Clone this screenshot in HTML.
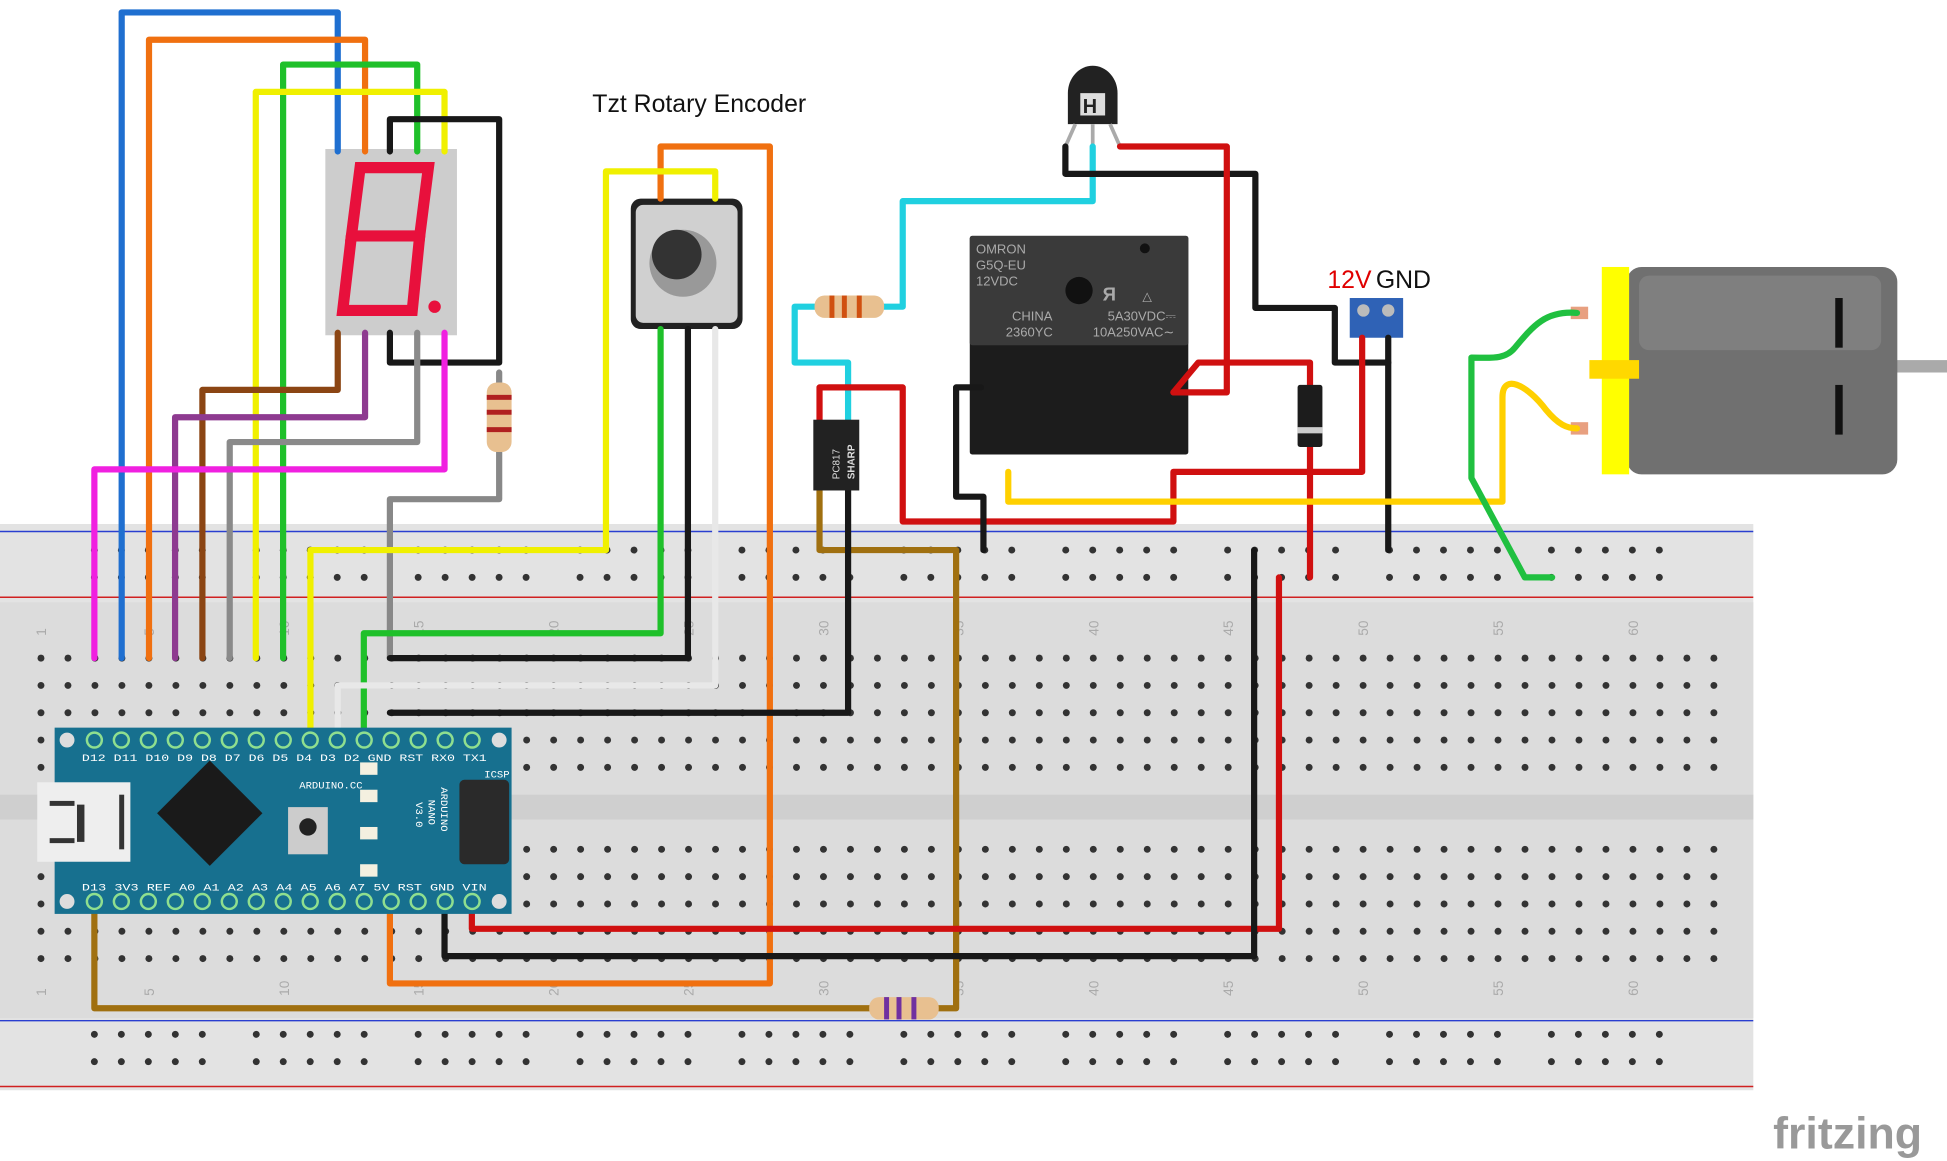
<!DOCTYPE html>
<html><head><meta charset="utf-8">
<style>
html,body{margin:0;padding:0;background:#fff;}
svg{display:block;}
text{font-family:"Liberation Sans","DejaVu Sans",sans-serif;}
.mono{font-family:"Liberation Mono","DejaVu Sans Mono",monospace;}
</style></head>
<body>
<svg id="s" xmlns="http://www.w3.org/2000/svg" width="1947" height="1161" viewBox="0 0 1568 935">
<rect width="1568" height="935" fill="#fff"/>
<rect x="0" y="422" width="1412" height="456" fill="#e3e3e3"/>
<rect x="0" y="485" width="1412" height="335" fill="#dcdcdc"/>
<rect x="0" y="640" width="1412" height="20" fill="#cfcfcf"/>
<line x1="0" y1="428" x2="1412" y2="428" stroke="#2a3fd0" stroke-width="1.2"/>
<line x1="0" y1="481" x2="1412" y2="481" stroke="#d02020" stroke-width="1.2"/>
<line x1="0" y1="822" x2="1412" y2="822" stroke="#2a3fd0" stroke-width="1.2"/>
<line x1="0" y1="875" x2="1412" y2="875" stroke="#d02020" stroke-width="1.2"/>
<g id="holes"></g>
<g font-size="11" fill="#aaa" id="nums"></g>

<rect x="262" y="120" width="106" height="150" fill="#cdcdcd"/>
<g stroke="#e8103c" stroke-width="9" fill="none" stroke-linecap="round">
<path d="M290 135 L345 135 L338 190 L283 190 Z"/>
<path d="M283 190 L276 250 L332 250 L338 190"/>
</g>
<circle cx="350" cy="247" r="5" fill="#e8103c"/>

<rect x="508" y="160" width="90" height="105" rx="8" fill="#222"/>
<rect x="512" y="165" width="82" height="95" rx="6" fill="#d0d0d0"/>
<circle cx="550" cy="212" r="27" fill="#999"/>
<circle cx="545" cy="205" r="20" fill="#333"/>
<text x="477" y="90" font-size="20" fill="#111">Tzt Rotary Encoder</text>

<path d="M860 75 A20 22 0 0 1 900 75 L900 100 L860 100 Z" fill="#222"/>
<rect x="870" y="75" width="20" height="18" fill="#ddd"/>
<text x="872" y="91" font-size="16" font-weight="bold" fill="#222">H</text>
<g stroke="#aaa" stroke-width="3"><line x1="866" y1="100" x2="858" y2="118"/><line x1="880" y1="100" x2="880" y2="118"/><line x1="894" y1="100" x2="902" y2="118"/></g>

<rect x="781" y="190" width="176" height="176" rx="2" fill="#1c1c1c"/>
<rect x="781" y="190" width="176" height="88" rx="2" fill="#3a3a3a"/>
<g font-size="10.5" fill="#aaa">
<text x="786" y="204">OMRON</text><text x="786" y="217">G5Q-EU</text><text x="786" y="230">12VDC</text>
<text x="815" y="258">CHINA</text><text x="810" y="271">2360YC</text>
<text x="892" y="258">5A30VDC⎓</text><text x="880" y="271">10A250VAC∼</text>
<text x="888" y="242" font-size="15" font-weight="bold">Я</text><text x="920" y="242" font-size="10">△</text>
</g>
<circle cx="869" cy="234" r="11" fill="#111"/><circle cx="922" cy="200" r="4" fill="#111"/>

<rect x="1087" y="240" width="43" height="32" fill="#2f62b6"/>
<circle cx="1098" cy="250" r="5" fill="#bbb"/><circle cx="1118" cy="250" r="5" fill="#bbb"/>
<text x="1069" y="232" font-size="20" fill="#e00000">12V</text>
<text x="1108" y="232" font-size="20" fill="#111">GND</text>

<rect x="1525" y="290" width="43" height="10" fill="#aaa"/>
<rect x="1310" y="215" width="218" height="167" rx="12" fill="#707070"/>
<rect x="1320" y="222" width="195" height="60" rx="8" fill="#7f7f7f"/>
<rect x="1290" y="215" width="22" height="167" fill="#ffff00"/>
<rect x="1280" y="290" width="40" height="15" fill="#ffd800"/>
<rect x="1478" y="240" width="6" height="40" fill="#111"/><rect x="1478" y="310" width="6" height="40" fill="#111"/>
<rect x="1265" y="247" width="14" height="10" fill="#e8a080"/><rect x="1265" y="340" width="14" height="10" fill="#e8a080"/>

<g fill="none" stroke-width="5" stroke-linejoin="round" stroke-linecap="round">
<polyline stroke="#1f6fd0" points="98,530 98,10 272,10 272,122"/>
<polyline stroke="#f07010" points="120,530 120,32 294,32 294,122"/>
<polyline stroke="#1fc02a" points="228,530 228,52 336,52 336,122"/>
<polyline stroke="#f0f000" points="206,530 206,74 358,74 358,122"/>
<polyline stroke="#181818" points="314,122 314,96 402,96 402,292 314,292 314,268"/>
<polyline stroke="#888" points="402,300 402,402 314,402 314,530"/>
<polyline stroke="#8b4513" points="163,530 163,314 272,314 272,268"/>
<polyline stroke="#8e3a90" points="141,530 141,336 294,336 294,268"/>
<polyline stroke="#8a8a8a" points="185,530 185,356 336,356 336,268"/>
<polyline stroke="#f020e0" points="76,530 76,378 358,378 358,268"/>
<polyline stroke="#f07010" points="532,160 532,118 620,118 620,792 314,792 314,726"/>
<polyline stroke="#f0f000" points="576,160 576,138 488,138 488,443 250,443 250,596"/>
<polyline stroke="#1fc02a" points="532,265 532,510 293,510 293,596"/>
<polyline stroke="#181818" points="554,265 554,530 314,530"/>
<polyline stroke="#e8e8e8" points="576,265 576,552 272,552 272,596"/>
<polyline stroke="#20d0e0" points="880,118 880,162 727,162 727,247 640,247 640,292 683,292 683,340"/>
<polyline stroke="#181818" points="858,118 858,140 1011,140 1011,248 1075,248 1075,292 1118,292 1118,443"/>
<polyline stroke="#181818" points="1118,272 1118,292"/>
<polyline stroke="#d01010" points="902,118 988,118 988,316 945,316"/>
<polyline stroke="#d01010" points="945,316 965,292 1055,292 1055,465"/>
<polyline stroke="#d01010" points="1097,272 1097,380 945,380 945,420 727,420 727,312 660,312 660,340"/>
<polyline stroke="#181818" points="792,443 792,400 770,400 770,312 790,312"/>
<path stroke="#ffd000" d="M812 380 L812 404 L1210 404 L1210 320 C1210 300 1230 310 1245 330 C1255 342 1262 345 1270 345"/>
<path stroke="#20c040" d="M1270 252 C1245 250 1235 262 1220 280 C1212 290 1200 288 1185 288 L1185 385 L1228 465 L1250 465"/>
<polyline stroke="#a07010" points="660,395 660,443 770,443 770,812 76,812 76,726"/>
<polyline stroke="#181818" points="683,395 683,574 314,574"/>
<polyline stroke="#d01010" points="380,726 380,748 1030,748 1030,465"/>
<polyline stroke="#181818" points="358,726 358,770 1010,770 1010,443"/>
</g>

<rect x="392" y="308" width="20" height="56" rx="8" fill="#e8c090"/>
<g fill="#b02020"><rect x="392" y="318" width="20" height="4"/><rect x="392" y="330" width="20" height="4"/><rect x="392" y="344" width="20" height="4"/></g>
<rect x="656" y="238" width="56" height="18" rx="8" fill="#e8c090"/>
<g fill="#d05010"><rect x="668" y="238" width="4" height="18"/><rect x="678" y="238" width="4" height="18"/><rect x="690" y="238" width="4" height="18"/></g>
<rect x="700" y="803" width="56" height="18" rx="8" fill="#e8c090"/>
<g fill="#7030a0"><rect x="712" y="803" width="4" height="18"/><rect x="722" y="803" width="4" height="18"/><rect x="734" y="803" width="4" height="18"/></g>
<rect x="655" y="338" width="37" height="57" fill="#222"/>
<text x="0" y="0" font-size="8" fill="#ddd" transform="translate(676,386) rotate(-90)">PC817</text>
<text x="0" y="0" font-size="8" fill="#ddd" font-weight="bold" transform="translate(688,386) rotate(-90)">SHARP</text>
<rect x="1045" y="310" width="20" height="50" rx="2" fill="#1c1c1c"/><rect x="1045" y="344" width="20" height="5" fill="#ccc"/>

<rect x="44" y="586" width="368" height="150" fill="#17708f"/>
<rect x="30" y="630" width="75" height="64" fill="#eee"/>
<g fill="#333"><rect x="40" y="645" width="20" height="4"/><rect x="40" y="675" width="20" height="4"/><rect x="62" y="648" width="6" height="30"/><rect x="96" y="640" width="4" height="44"/></g>
<rect x="136" y="632" width="60" height="60" fill="#1a1a1a" transform="rotate(45 176 662)"/>
<rect x="232" y="650" width="32" height="38" fill="#ccc"/><circle cx="248" cy="666" r="7" fill="#222"/>
<rect x="370" y="628" width="40" height="68" rx="4" fill="#2a2a2a"/>
<g fill="#f4f0e0"><rect x="290" y="614" width="14" height="10"/><rect x="290" y="636" width="14" height="10"/><rect x="290" y="666" width="14" height="10"/><rect x="290" y="696" width="14" height="10"/></g>
<g font-size="8.5" fill="#fff" class="mono">
<text class="mono" x="66" y="613" textLength="326" lengthAdjust="spacingAndGlyphs">D12 D11 D10 D9  D8  D7  D6  D5  D4  D3  D2 GND RST RX0 TX1</text>
<text class="mono" x="66" y="717" textLength="326" lengthAdjust="spacingAndGlyphs">D13 3V3 REF A0  A1  A2  A3  A4  A5  A6  A7  5V RST GND VIN</text>
<text class="mono" x="241" y="635">ARDUINO.CC</text><text class="mono" x="390" y="626">ICSP</text>
<text class="mono" transform="translate(355,634) rotate(90)">ARDUINO</text>
<text class="mono" transform="translate(345,644) rotate(90)">NANO</text>
<text class="mono" transform="translate(335,646) rotate(90)">V3.0</text>
</g>
<g fill="none" stroke="#8fdf8f" stroke-width="2" id="apins"></g>
<circle cx="54" cy="596" r="6" fill="#ddd"/><circle cx="402" cy="596" r="6" fill="#ddd"/>
<circle cx="54" cy="726" r="6" fill="#ddd"/><circle cx="402" cy="726" r="6" fill="#ddd"/>

<text x="1428" y="925" font-size="36" fill="#999" font-weight="bold">fritzing</text>
</svg>
<script>
var h=document.getElementById("holes"),out="";
var pitch=21.73;
function sq(x,y){out+='<circle cx="'+x+'" cy="'+y+'" r="2.8" fill="#333"/>';}
var rows=[530,552,574,596,618,684,706,728,750,772];
for(var c=0;c<63;c++){var x=33+c*pitch;for(var r=0;r<rows.length;r++){
 var y=rows[r]; if(x>40&&x<415&&y>580&&y<740)continue; sq(x,y);}}
for(var g=0;g<10;g++){for(var k=0;k<5;k++){var x=76+(g*6+k)*pitch;if(x>1345)continue;[443,465,833,855].forEach(function(y){sq(x,y);});}}
h.innerHTML=out;
var n="",labs=[1,5,10,15,20,25,30,35,40,45,50,55,60];
labs.forEach(function(l){var x=33+(l-1)*pitch+4;n+='<text transform="translate('+x+',512) rotate(-90)">'+l+'</text><text transform="translate('+x+',802) rotate(-90)">'+l+'</text>';});
document.getElementById("nums").innerHTML=n;
var a="";for(var i=0;i<15;i++){var x=76+i*pitch;a+='<circle cx="'+x+'" cy="596" r="6"/><circle cx="'+x+'" cy="726" r="6"/>';}
document.getElementById("apins").innerHTML=a;
</script>
</body></html>
